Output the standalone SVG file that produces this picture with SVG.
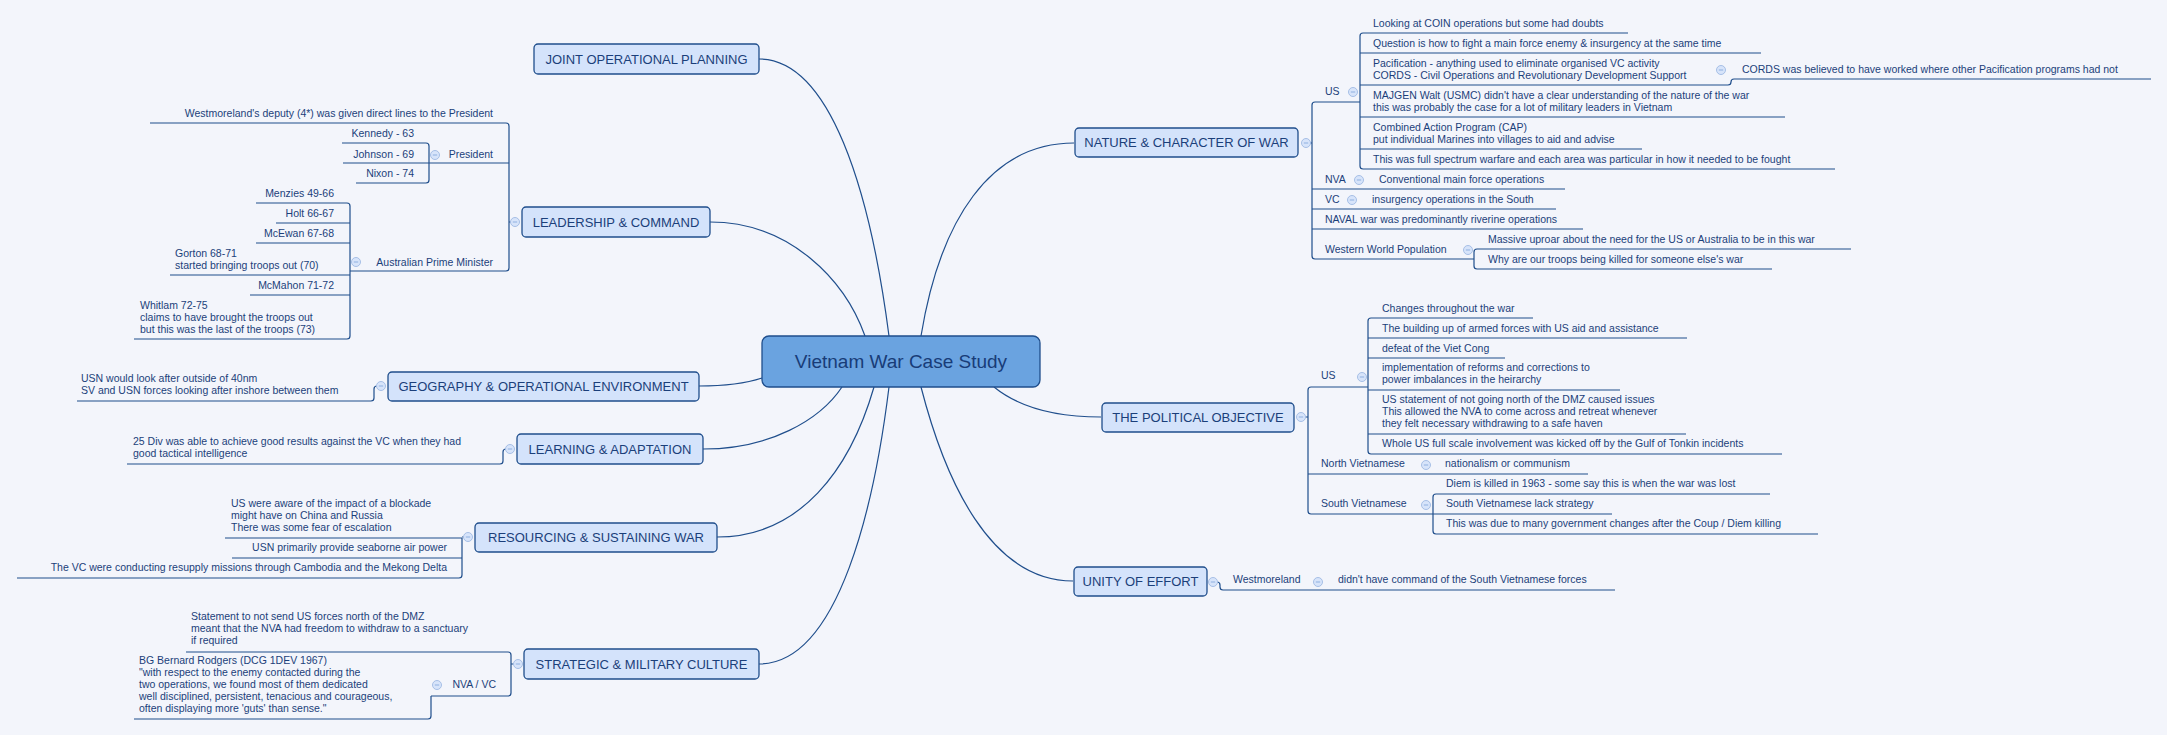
<svg xmlns="http://www.w3.org/2000/svg" width="2167" height="735" viewBox="0 0 2167 735">
<defs>
<style>
.bg{fill:#f3f5fb}
.topic{fill:#d4e3fb;stroke:#1f4e8c;stroke-width:1.3}
.center{fill:#6aa3e0;stroke:#1f4e8c;stroke-width:1.3}
.tt{font-family:"Liberation Sans",Arial,sans-serif;font-size:13px;fill:#1b3f7a;text-anchor:middle}
.ct{font-family:"Liberation Sans",Arial,sans-serif;font-size:19px;fill:#183c78;text-anchor:middle}
.t{font-family:"Liberation Sans",Arial,sans-serif;font-size:10.5px;fill:#1b3f7a}
.e{text-anchor:end}
.c{fill:none;stroke:#1f4e8c;stroke-width:1.2}
.l{fill:none;stroke:#1f4e8c;stroke-width:1.2}
.col{fill:#d7e4fa;stroke:#a6bfe6;stroke-width:1}
.m{stroke:#8fb0e0;stroke-width:1}
</style>
<g id="coll"><circle class="col" cx="0" cy="0" r="4.5"/><line class="m" x1="-2.2" y1="0" x2="2.2" y2="0"/></g>
</defs>
<rect class="bg" x="0" y="0" width="2167" height="735"/>

<g id="connectors">
<path class="c" d="M759 59 C830 59 870 190 889 336"/>
<path class="c" d="M710 222 C790 222 845 280 865 336"/>
<path class="c" d="M1074 143 C990 143 940 220 921 336"/>
<path class="c" d="M699 386 C730 386 750 382 762 378"/>
<path class="c" d="M703 449 C770 449 820 420 842 387"/>
<path class="c" d="M717 537 C800 537 850 470 874 387"/>
<path class="c" d="M759 664 C840 664 875 500 889 387"/>
<path class="c" d="M1101 417 C1040 417 1010 400 994 387"/>
<path class="c" d="M1073 581 C990 581 945 480 921 387"/>

<!-- Leadership -->
<path class="l" d="M150 123 H506 Q509 123 509 126 V268 Q509 271 506 271 H350 M509 222 H511"/>
<path class="l" d="M429 163 H509"/>
<path class="l" d="M342 143 H426 Q429 143 429 146 V180 Q429 183 426 183 H356 M343 163 H429"/>
<path class="l" d="M256 203 H347 Q350 203 350 206 V336 Q350 339 347 339 H134 M276 223 H350 M256 243 H350 M170 275 H350 M250 295 H350"/>
<!-- Geography -->
<path class="l" d="M77 401 H371 Q374 401 374 398 V389 Q374 386 377 386"/>
<!-- Learning -->
<path class="l" d="M127 464 H500 Q503 464 503 461 V452 Q503 449 506 449"/>
<!-- Resourcing -->
<path class="l" d="M225 538 H462 M232 558 H462 M17 578 H459 Q462 578 462 575 V538 M462 537 H464"/>
<!-- Strategic -->
<path class="l" d="M186 652 H508 Q511 652 511 655 V693 Q511 696 508 696 H431 M511 664 H514"/>
<path class="l" d="M134 719 H428 Q431 719 431 716 V696"/>
<!-- Nature -->
<path class="l" d="M1312 143 H1302 M1360 102 H1315 Q1312 102 1312 105 V256 Q1312 259 1315 259 H1474 M1312 189 H1565 M1312 209 H1556 M1312 229 H1583"/>
<path class="l" d="M1628 33 H1363 Q1360 33 1360 36 V166 Q1360 169 1363 169 H1835 M1360 53 H1761 M1360 85 H1728 M1360 117 H1785 M1360 149 H1642"/>
<path class="l" d="M1728 85 Q1731 85 1731 82 Q1731 79 1734 79 H2151"/>
<path class="l" d="M1851 249 H1477 Q1474 249 1474 252 V266 Q1474 269 1477 269 H1772"/>
<!-- Political -->
<path class="l" d="M1305 417 H1308 M1368 387 H1311 Q1308 387 1308 390 V511 Q1308 514 1311 514 H1433 M1308 474 H1588"/>
<path class="l" d="M1533 318 H1371 Q1368 318 1368 321 V451 Q1368 454 1371 454 H1782 M1368 338 H1687 M1368 358 H1505 M1368 390 H1620 M1368 434 H1686"/>
<path class="l" d="M1770 494 H1436 Q1433 494 1433 497 V531 Q1433 534 1436 534 H1818 M1433 514 H1612"/>
<!-- Unity -->
<path class="l" d="M1217 582 Q1220 582 1220 585 V587 Q1220 590 1223 590 H1615"/>
</g>

<g id="center"><rect class="center" x="762" y="336" width="278" height="51" rx="7"/><text class="ct" x="901" y="368">Vietnam War Case Study</text></g>

<g id="joint"><rect class="topic" x="534" y="44" width="225" height="30" rx="4"/><text class="tt" x="646.5" y="64">JOINT OPERATIONAL PLANNING</text></g>

<g id="leadership"><rect class="topic" x="522" y="207" width="188" height="30" rx="4"/><text class="tt" x="616" y="227">LEADERSHIP &amp; COMMAND</text>
<use href="#coll" x="515" y="222"/>
<text class="t e" x="493" y="117">Westmoreland's deputy (4*) was given direct lines to the President</text>
<text class="t e" x="493" y="158">President</text><use href="#coll" x="435" y="155"/>
<text class="t e" x="414" y="137">Kennedy - 63</text>
<text class="t e" x="414" y="158">Johnson - 69</text>
<text class="t e" x="414" y="177">Nixon - 74</text>
<text class="t e" x="493" y="266">Australian Prime Minister</text><use href="#coll" x="356" y="262"/>
<text class="t e" x="334" y="197">Menzies 49-66</text>
<text class="t e" x="334" y="217">Holt 66-67</text>
<text class="t e" x="334" y="237">McEwan 67-68</text>
<text class="t" x="175" y="257">Gorton 68-71</text><text class="t" x="175" y="269">started bringing troops out (70)</text>
<text class="t e" x="334" y="289">McMahon 71-72</text>
<text class="t" x="140" y="309">Whitlam 72-75</text><text class="t" x="140" y="321">claims to have brought the troops out</text><text class="t" x="140" y="333">but this was the last of the troops (73)</text>
</g>

<g id="geography"><rect class="topic" x="388" y="372" width="311" height="29" rx="4"/><text class="tt" x="543.5" y="391">GEOGRAPHY &amp; OPERATIONAL ENVIRONMENT</text>
<use href="#coll" x="381" y="386"/>
<text class="t" x="81" y="382">USN would look after outside of 40nm</text><text class="t" x="81" y="394">SV and USN forces looking after inshore between them</text>
</g>

<g id="learning"><rect class="topic" x="517" y="434" width="186" height="30" rx="4"/><text class="tt" x="610" y="454">LEARNING &amp; ADAPTATION</text>
<use href="#coll" x="510" y="449"/>
<text class="t" x="133" y="445">25 Div was able to achieve good results against the VC when they had</text><text class="t" x="133" y="457">good tactical intelligence</text>
</g>

<g id="resourcing"><rect class="topic" x="475" y="523" width="242" height="29" rx="4"/><text class="tt" x="596" y="542">RESOURCING &amp; SUSTAINING WAR</text>
<use href="#coll" x="468" y="537"/>
<text class="t" x="231" y="507">US were aware of the impact of a blockade</text><text class="t" x="231" y="519">might have on China and Russia</text><text class="t" x="231" y="531">There was some fear of escalation</text>
<text class="t e" x="447" y="551">USN primarily provide seaborne air power</text>
<text class="t e" x="447" y="571">The VC were conducting resupply missions through Cambodia and the Mekong Delta</text>
</g>

<g id="strategic"><rect class="topic" x="524" y="649" width="235" height="30" rx="4"/><text class="tt" x="641.5" y="669">STRATEGIC &amp; MILITARY CULTURE</text>
<use href="#coll" x="518" y="664"/>
<text class="t" x="191" y="620">Statement to not send US forces north of the DMZ</text><text class="t" x="191" y="632">meant that the NVA had freedom to withdraw to a sanctuary</text><text class="t" x="191" y="644">if required</text>
<text class="t e" x="496" y="688">NVA / VC</text><use href="#coll" x="437" y="685"/>
<text class="t" x="139" y="664">BG Bernard Rodgers (DCG 1DEV 1967)</text><text class="t" x="139" y="676">"with respect to the enemy contacted during the</text><text class="t" x="139" y="688">two operations, we found most of them dedicated</text><text class="t" x="139" y="700">well disciplined, persistent, tenacious and courageous,</text><text class="t" x="139" y="712">often displaying more 'guts' than sense."</text>
</g>

<g id="nature"><rect class="topic" x="1075" y="128" width="223" height="29" rx="4"/><text class="tt" x="1186.5" y="147">NATURE &amp; CHARACTER OF WAR</text>
<use href="#coll" x="1306" y="143"/>
<text class="t" x="1325" y="95">US</text><use href="#coll" x="1353" y="92"/>
<text class="t" x="1373" y="27">Looking at COIN operations but some had doubts</text>
<text class="t" x="1373" y="47">Question is how to fight a main force enemy &amp; insurgency at the same time</text>
<text class="t" x="1373" y="67">Pacification - anything used to eliminate organised VC activity</text><text class="t" x="1373" y="79">CORDS - Civil Operations and Revolutionary Development Support</text>
<use href="#coll" x="1721" y="70"/><text class="t" x="1742" y="73">CORDS was believed to have worked where other Pacification programs had not</text>
<text class="t" x="1373" y="99">MAJGEN Walt (USMC) didn't have a clear understanding of the nature of the war</text><text class="t" x="1373" y="111">this was probably the case for a lot of military leaders in Vietnam</text>
<text class="t" x="1373" y="131">Combined Action Program (CAP)</text><text class="t" x="1373" y="143">put individual Marines into villages to aid and advise</text>
<text class="t" x="1373" y="163">This was full spectrum warfare and each area was particular in how it needed to be fought</text>
<text class="t" x="1325" y="183">NVA</text><use href="#coll" x="1359" y="180"/><text class="t" x="1379" y="183">Conventional main force operations</text>
<text class="t" x="1325" y="203">VC</text><use href="#coll" x="1352" y="200"/><text class="t" x="1372" y="203">insurgency operations in the South</text>
<text class="t" x="1325" y="223">NAVAL war was predominantly riverine operations</text>
<text class="t" x="1325" y="253">Western World Population</text><use href="#coll" x="1468" y="250"/>
<text class="t" x="1488" y="243">Massive uproar about the need for the US or Australia to be in this war</text>
<text class="t" x="1488" y="263">Why are our troops being killed for someone else's war</text>
</g>

<g id="political"><rect class="topic" x="1102" y="403" width="192" height="29" rx="4"/><text class="tt" x="1198" y="422">THE POLITICAL OBJECTIVE</text>
<use href="#coll" x="1301" y="417"/>
<text class="t" x="1321" y="379">US</text><use href="#coll" x="1362" y="377"/>
<text class="t" x="1382" y="312">Changes throughout the war</text>
<text class="t" x="1382" y="332">The building up of armed forces with US aid and assistance</text>
<text class="t" x="1382" y="352">defeat of the Viet Cong</text>
<text class="t" x="1382" y="371">implementation of reforms and corrections to</text><text class="t" x="1382" y="383">power imbalances in the heirarchy</text>
<text class="t" x="1382" y="403">US statement of not going north of the DMZ caused issues</text><text class="t" x="1382" y="415">This allowed the NVA to come across and retreat whenever</text><text class="t" x="1382" y="427">they felt necessary withdrawing to a safe haven</text>
<text class="t" x="1382" y="447">Whole US full scale involvement was kicked off by the Gulf of Tonkin incidents</text>
<text class="t" x="1321" y="467">North Vietnamese</text><use href="#coll" x="1426" y="465"/><text class="t" x="1445" y="467">nationalism or communism</text>
<text class="t" x="1321" y="507">South Vietnamese</text><use href="#coll" x="1426" y="505"/>
<text class="t" x="1446" y="487">Diem is killed in 1963 - some say this is when the war was lost</text>
<text class="t" x="1446" y="507">South Vietnamese lack strategy</text>
<text class="t" x="1446" y="527">This was due to many government changes after the Coup / Diem killing</text>
</g>

<g id="unity"><rect class="topic" x="1074" y="567" width="133" height="29" rx="4"/><text class="tt" x="1140.5" y="586">UNITY OF EFFORT</text>
<use href="#coll" x="1213" y="582"/>
<text class="t" x="1233" y="583">Westmoreland</text><use href="#coll" x="1318" y="582"/>
<text class="t" x="1338" y="583">didn't have command of the South Vietnamese forces</text>
</g>
</svg>
